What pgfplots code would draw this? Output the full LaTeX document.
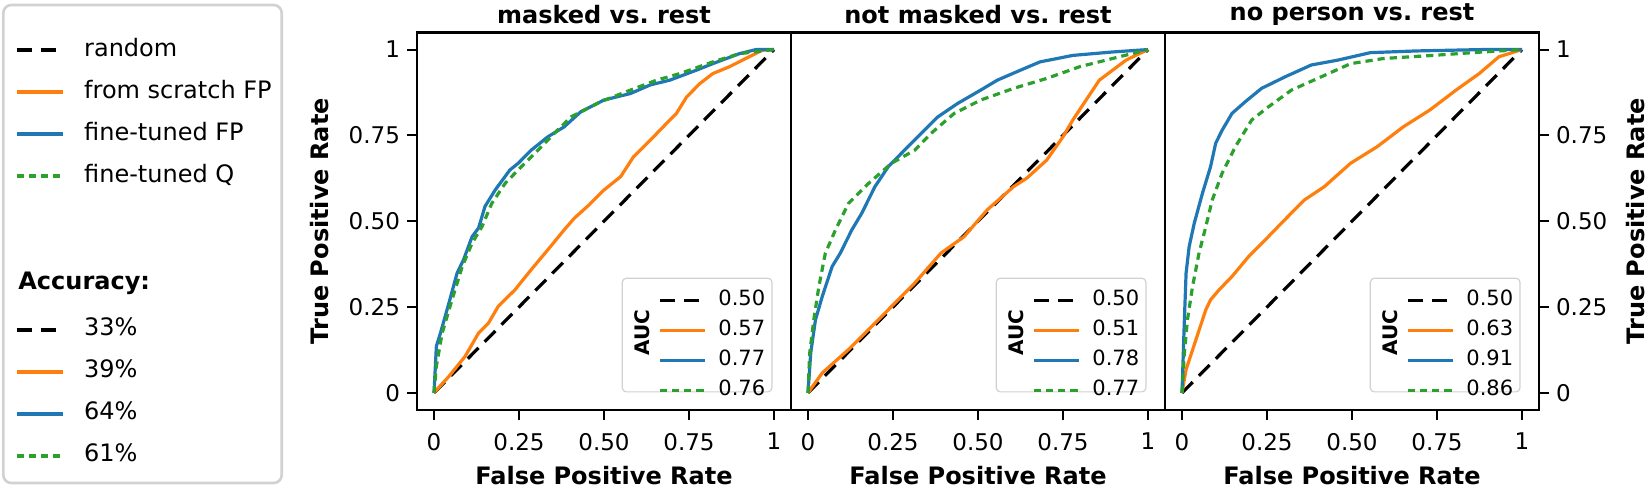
\documentclass[border=0pt]{standalone}
\usepackage{pgfplots}
\pgfplotsset{compat=1.18}
\usepackage{fontspec}
\setmainfont{DejaVu Sans}
\definecolor{tabblue}{HTML}{1F77B4}
\definecolor{taborange}{HTML}{FF7F0E}
\definecolor{tabgreen}{HTML}{2CA02C}
\pgfplotsset{
 rnd/.style={black, line width=1.6pt, dash pattern=on 7.6pt off 4.4pt, mark=none},
 ors/.style={taborange, line width=1.6pt, mark=none},
 blu/.style={tabblue, line width=1.6pt, mark=none},
 grn/.style={tabgreen, line width=1.6pt, dash pattern=on 3.6pt off 2.5pt, mark=none},
 rocax/.style={
  scale only axis, width=187pt, height=188.8pt, anchor=south west,
  xmin=-0.05, xmax=1.05, ymin=-0.05, ymax=1.05,
  xtick={0,0.25,0.5,0.75,1}, xticklabels={0,0.25,0.50,0.75,1},
  ytick={0,0.25,0.5,0.75,1}, yticklabels={0,0.25,0.50,0.75,1},
  xtick pos=left,
  tick align=outside, major tick length=5pt,
  every tick/.style={black, line width=1pt},
  axis line style={line width=1.1pt},
  ticklabel style={font=\fontsize{11.5}{13}\selectfont},
  xticklabel style={yshift=-3pt},
  /pgf/number format/assume math mode=true,
  every axis title/.style={at={(axis description cs:0.5,1.046)}, anchor=center, inner sep=0pt, font=\bfseries\fontsize{12}{14}\selectfont},
  xlabel={False Positive Rate},
  every axis x label/.style={at={(axis description cs:0.5,-0.173)}, anchor=center, inner sep=0pt, font=\bfseries\fontsize{12}{14}\selectfont},
  no markers,
  legend cell align=left,
  legend style={at={(0.645,0.3175)}, anchor=north west, draw=none, fill=none, inner sep=0pt, outer sep=0pt, row sep=5pt, font=\fontsize{10.5}{12}\selectfont, nodes={inner sep=0pt, text height=7.5pt, text depth=2.5pt}, /tikz/every odd column/.append style={column sep=6pt}},
  legend image code/.code={\draw[##1] (0pt,0pt) -- (22.5pt,0pt);},
 },
 leftleg/.style={
  hide axis, scale only axis, width=142pt, height=244pt, at={(0pt,0pt)}, anchor=south west,
  xmin=0, xmax=142, ymin=0, ymax=244,
  legend cell align=left,
  legend style={anchor=north west, draw=none, fill=none, inner sep=0pt, outer sep=0pt, row sep=9pt, font=\fontsize{12}{14}\selectfont, nodes={inner sep=0pt, text height=9pt, text depth=3pt}, /tikz/every odd column/.append style={column sep=10pt}},
  legend image code/.code={\draw[##1] (0pt,0pt) -- (23pt,0pt);},
 },
}
\newcommand{\aucbox}[1]{%
  \draw[draw=black!18, line width=0.6pt, rounded corners=2pt, fill=white, fill opacity=0.8] (axis description cs:0.549,0.048) rectangle (axis description cs:0.949,0.349);
  \node[rotate=90, font=\bfseries\fontsize{10}{12}\selectfont] at (axis description cs:0.602,0.204) {AUC};
}
\begin{document}
\begin{tikzpicture}
\useasboundingbox (0,0) rectangle (824pt,244pt);
\draw[rounded corners=4pt, draw=black!18, line width=1.3pt, fill=white] (1.65pt,2.5pt) rectangle (140.85pt,241.5pt);

% left legend, part 1
\begin{axis}[leftleg, legend style={at={(0.0528,0.9221)}}]
\addlegendimage{rnd}\addlegendentry{random}
\addlegendimage{ors}\addlegendentry{from scratch FP}
\addlegendimage{blu}\addlegendentry{fine-tuned FP}
\addlegendimage{grn}\addlegendentry{fine-tuned Q}
\end{axis}
% left legend, part 2
\begin{axis}[leftleg, legend style={at={(0.0528,0.3484)}}]
\node[anchor=west, font=\bfseries\fontsize{12}{14}\selectfont, inner sep=0pt] at (axis cs:9,102.5) {Accuracy:};
\addlegendimage{rnd}\addlegendentry{33\%}
\addlegendimage{ors}\addlegendentry{39\%}
\addlegendimage{blu}\addlegendentry{64\%}
\addlegendimage{grn}\addlegendentry{61\%}
\end{axis}

% panel 1
\begin{axis}[rocax, at={(208.5pt,39pt)}, title={masked vs.\ rest}, ytick pos=left,
  ylabel={True Positive Rate},
  every axis y label/.style={at={(axis description cs:-0.261,0.5)}, rotate=90, anchor=center, inner sep=0pt, font=\bfseries\fontsize{12}{14}\selectfont}]
\addplot[rnd] coordinates {(0,0) (1,1)};
\addplot[ors] coordinates {(0,0) (0.044,0.048) (0.092,0.107) (0.131,0.174) (0.160,0.203) (0.189,0.252) (0.238,0.300) (0.286,0.359) (0.335,0.417) (0.383,0.475) (0.413,0.509) (0.451,0.543) (0.500,0.591) (0.549,0.630) (0.587,0.688) (0.636,0.736) (0.684,0.785) (0.713,0.814) (0.743,0.862) (0.782,0.901) (0.820,0.930) (0.869,0.950) (0.937,0.984) (0.966,0.998) (1,1)};
\addplot[blu] coordinates {(0,0) (0.007,0.136) (0.019,0.174) (0.044,0.262) (0.068,0.349) (0.087,0.388) (0.112,0.455) (0.131,0.480) (0.150,0.543) (0.180,0.591) (0.223,0.649) (0.248,0.669) (0.286,0.707) (0.335,0.746) (0.383,0.775) (0.432,0.819) (0.500,0.853) (0.578,0.872) (0.636,0.897) (0.694,0.911) (0.772,0.940) (0.820,0.959) (0.898,0.988) (0.947,1.0) (1,1)};
\addplot[grn] coordinates {(0,0) (0.007,0.078) (0.024,0.174) (0.053,0.271) (0.083,0.368) (0.112,0.436) (0.141,0.484) (0.170,0.552) (0.209,0.610) (0.257,0.659) (0.306,0.707) (0.354,0.756) (0.403,0.804) (0.490,0.848) (0.578,0.882) (0.655,0.911) (0.723,0.930) (0.820,0.964) (0.898,0.988) (1,1)};
\aucbox{}
\legend{0.50,0.57,0.77,0.76}
\end{axis}

% panel 2
\begin{axis}[rocax, at={(395.5pt,39pt)}, title={not masked vs.\ rest}, ytick=\empty]
\addplot[rnd] coordinates {(0,0) (1,1)};
\addplot[ors] coordinates {(0,0) (0.042,0.058) (0.119,0.126) (0.217,0.223) (0.314,0.320) (0.391,0.407) (0.459,0.455) (0.527,0.533) (0.605,0.601) (0.643,0.625) (0.702,0.678) (0.750,0.746) (0.779,0.795) (0.818,0.853) (0.857,0.911) (0.896,0.940) (0.935,0.969) (0.974,0.988) (1,1)};
\addplot[blu] coordinates {(0,0) (0.008,0.116) (0.022,0.213) (0.042,0.281) (0.071,0.368) (0.095,0.407) (0.129,0.475) (0.158,0.523) (0.197,0.601) (0.236,0.659) (0.284,0.707) (0.333,0.756) (0.382,0.804) (0.440,0.843) (0.508,0.882) (0.557,0.911) (0.625,0.940) (0.682,0.964) (0.779,0.983) (0.896,0.993) (1,1)};
\addplot[grn] coordinates {(0,0) (0.005,0.116) (0.017,0.213) (0.032,0.310) (0.051,0.407) (0.081,0.475) (0.119,0.552) (0.178,0.610) (0.246,0.669) (0.314,0.707) (0.362,0.756) (0.430,0.814) (0.508,0.853) (0.605,0.887) (0.702,0.916) (0.799,0.950) (0.896,0.974) (1,1)};
\aucbox{}
\legend{0.50,0.51,0.78,0.77}
\end{axis}

% panel 3
\begin{axis}[rocax, at={(582.5pt,39pt)}, title={no person vs.\ rest}, ytick pos=right, yticklabel pos=right,
  ylabel={True Positive Rate},
  every axis y label/.style={at={(axis description cs:1.257,0.5)}, rotate=90, anchor=center, inner sep=0pt, font=\bfseries\fontsize{12}{14}\selectfont}]
\addplot[rnd] coordinates {(0,0) (1,1)};
\addplot[ors] coordinates {(0,0) (0.012,0.068) (0.041,0.155) (0.070,0.242) (0.084,0.271) (0.109,0.300) (0.147,0.339) (0.196,0.397) (0.254,0.455) (0.302,0.504) (0.360,0.562) (0.419,0.601) (0.496,0.669) (0.574,0.717) (0.651,0.775) (0.729,0.824) (0.806,0.882) (0.874,0.930) (0.932,0.979) (1,1)};
\addplot[blu] coordinates {(0,0) (0.007,0.213) (0.012,0.349) (0.021,0.426) (0.036,0.494) (0.060,0.581) (0.084,0.659) (0.099,0.727) (0.118,0.765) (0.147,0.814) (0.186,0.848) (0.234,0.887) (0.302,0.920) (0.380,0.955) (0.457,0.969) (0.554,0.991) (0.690,0.996) (0.884,1.0) (1,1)};
\addplot[grn] coordinates {(0,0) (0.007,0.116) (0.016,0.213) (0.031,0.310) (0.050,0.407) (0.070,0.484) (0.089,0.562) (0.118,0.640) (0.157,0.717) (0.205,0.795) (0.254,0.833) (0.322,0.882) (0.399,0.916) (0.496,0.959) (0.593,0.974) (0.738,0.983) (0.884,0.993) (1,1)};
\aucbox{}
\legend{0.50,0.63,0.91,0.86}
\end{axis}
\end{tikzpicture}
\end{document}
